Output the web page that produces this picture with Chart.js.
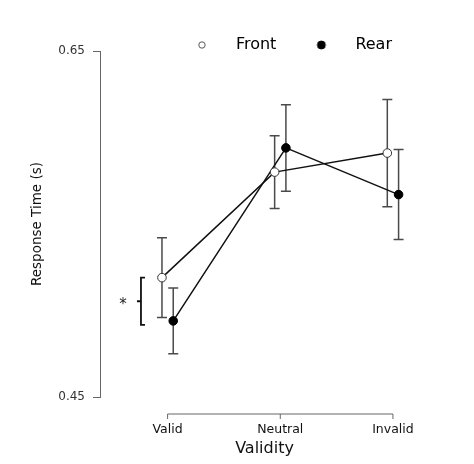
<!DOCTYPE html>
<html>
<head>
<meta charset="utf-8">
<script src="https://cdn.jsdelivr.net/npm/chart.js@4.4.1/dist/chart.umd.min.js"></script>
<style>
  html, body { margin: 0; padding: 0; background: #fff; }
  #wrap { width: 474px; height: 464px; }
</style>
</head>
<body>
<div id="wrap"><canvas id="rtChart"></canvas></div>
<script>
const categories = ['Valid', 'Neutral', 'Invalid'];
const frontMeans = [0.519, 0.580, 0.591];
const frontErrors = [0.023, 0.021, 0.031];
const rearMeans = [0.494, 0.594, 0.567];
const rearErrors = [0.019, 0.025, 0.026];
const yTicks = [0.45, 0.65];

const FONT = "'DejaVu Sans', sans-serif";
const shift = 0.05; // front sits left of the category, rear right

function toPoints(means, dx) {
  return means.map((v, i) => ({ x: i + 1 + dx, y: v }));
}

// legend marker: circle at the left of a wide icon, so the label sits further away
function legendIcon(filled) {
  const c = document.createElement('canvas');
  c.width = 34;
  c.height = 12;
  const g = c.getContext('2d');
  g.beginPath();
  g.arc(8, 6, filled ? 4 : 3.2, 0, Math.PI * 2);
  g.fillStyle = filled ? '#000' : '#fff';
  g.fill();
  g.lineWidth = 1;
  g.strokeStyle = filled ? '#000' : '#555';
  g.stroke();
  return c;
}
const legendIcons = [legendIcon(false), legendIcon(true)];

const extras = {
  id: 'extras',
  beforeDatasetsDraw(chart) {
    const { ctx, scales: { x, y } } = chart;
    const sets = [[frontMeans, frontErrors, -shift], [rearMeans, rearErrors, shift]];
    ctx.save();
    ctx.strokeStyle = '#4a4a4a';
    ctx.lineWidth = 1.5;
    sets.forEach(([means, errs, dx]) => {
      means.forEach((v, i) => {
        const px = x.getPixelForValue(i + 1 + dx);
        const top = y.getPixelForValue(v + errs[i]);
        const bot = y.getPixelForValue(v - errs[i]);
        ctx.beginPath();
        ctx.moveTo(px, top); ctx.lineTo(px, bot);
        ctx.moveTo(px - 5, top); ctx.lineTo(px + 5, top);
        ctx.moveTo(px - 5, bot); ctx.lineTo(px + 5, bot);
        ctx.stroke();
      });
    });
    ctx.restore();
  },
  afterDraw(chart) {
    const { ctx, chartArea, scales: { x, y } } = chart;

    // x axis drawn R style, only between the first and last category
    const ay = chartArea.bottom + 17;
    ctx.save();
    ctx.strokeStyle = '#666';
    ctx.lineWidth = 1;
    ctx.beginPath();
    ctx.moveTo(x.getPixelForValue(1), ay);
    ctx.lineTo(x.getPixelForValue(categories.length), ay);
    categories.forEach((c, i) => {
      const px = x.getPixelForValue(i + 1);
      ctx.moveTo(px, ay);
      ctx.lineTo(px, ay + 5);
    });
    ctx.stroke();

    // significance bracket for the Valid condition
    const bx = x.getPixelForValue(1 - shift) - 21;
    const bt = y.getPixelForValue(frontMeans[0]);
    const bb = y.getPixelForValue(rearMeans[0]) + 4;
    const mid = (bt + bb) / 2;
    ctx.strokeStyle = '#111';
    ctx.lineWidth = 1.8;
    ctx.beginPath();
    ctx.moveTo(bx + 4, bt);
    ctx.lineTo(bx, bt);
    ctx.lineTo(bx, bb);
    ctx.lineTo(bx + 4, bb);
    ctx.moveTo(bx, mid);
    ctx.lineTo(bx - 4, mid);
    ctx.stroke();
    ctx.fillStyle = '#222';
    ctx.font = '15px ' + FONT;
    ctx.textAlign = 'center';
    ctx.textBaseline = 'middle';
    ctx.fillText('*', bx - 18, mid + 4);
    ctx.restore();
  }
};

new Chart(document.getElementById('rtChart'), {
  type: 'scatter',
  data: {
    datasets: [{
      label: 'Front',
      data: toPoints(frontMeans, -shift),
      showLine: true,
      borderColor: '#111',
      borderWidth: 1.5,
      pointRadius: 4.3,
      pointHoverRadius: 4.3,
      pointBackgroundColor: '#fff',
      pointBorderColor: '#333',
      pointBorderWidth: 1
    }, {
      label: 'Rear',
      data: toPoints(rearMeans, shift),
      showLine: true,
      borderColor: '#111',
      borderWidth: 1.5,
      pointRadius: 4.3,
      pointHoverRadius: 4.3,
      pointBackgroundColor: '#000',
      pointBorderColor: '#000',
      pointBorderWidth: 1
    }]
  },
  options: {
    responsive: true,
    maintainAspectRatio: false,
    animation: false,
    layout: { padding: { left: 25, right: 45, top: 0, bottom: 0 } },
    plugins: {
      tooltip: { enabled: false },
      legend: {
        position: 'top',
        align: 'end',
        maxHeight: 51,
        labels: {
          usePointStyle: true,
          pointStyleWidth: 34,
          padding: 37,
          color: '#000',
          font: { family: FONT, size: 16 },
          generateLabels(chart) {
            const items = Chart.defaults.plugins.legend.labels.generateLabels(chart);
            items.forEach((it, i) => { it.pointStyle = legendIcons[i]; });
            return items;
          }
        }
      }
    },
    scales: {
      x: {
        type: 'linear',
        min: 0.4,
        max: 3.32,
        afterBuildTicks: s => { s.ticks = categories.map((c, i) => ({ value: i + 1 })); },
        afterFit: s => { s.height = 67; },
        ticks: {
          autoSkip: false,
          maxRotation: 0,
          padding: 25,
          color: '#111',
          font: { family: FONT, size: 12.5 },
          callback: v => categories[Math.round(v) - 1]
        },
        grid: { display: false, drawTicks: false },
        border: { display: false },
        title: {
          display: true,
          text: 'Validity',
          color: '#111',
          font: { family: FONT, size: 16 },
          padding: { top: 0, bottom: 6 }
        }
      },
      y: {
        min: 0.45,
        max: 0.65,
        afterBuildTicks: s => { s.ticks = yTicks.map(v => ({ value: v })); },
        afterFit: s => { s.width = 75; },
        ticks: {
          padding: 8,
          color: '#333',
          font: { family: FONT, size: 12 },
          callback: v => v.toFixed(2)
        },
        grid: { drawOnChartArea: false, drawTicks: true, tickLength: 7, color: '#666' },
        border: { display: true, color: '#666', width: 1 },
        title: {
          display: true,
          text: 'Response Time (s)',
          color: '#111',
          font: { family: FONT, size: 13.5 },
          padding: { top: 4, bottom: 0 }
        }
      }
    }
  },
  plugins: [extras]
});
</script>
</body>
</html>
